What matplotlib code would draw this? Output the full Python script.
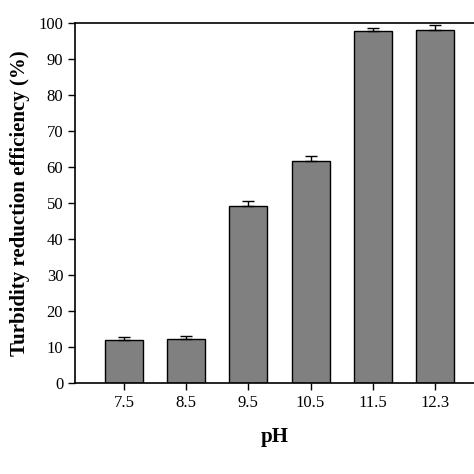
import matplotlib
matplotlib.use("Agg")
import matplotlib.pyplot as plt
import numpy as np

categories = ["7.5", "8.5", "9.5", "10.5", "11.5", "12.3"]
values = [11.9, 12.3, 49.2, 61.7, 97.7, 98.1]
errors = [1.0, 0.7, 1.2, 1.2, 0.8, 1.3]

plt.rcParams['font.family'] = ['Liberation Serif', 'DejaVu Serif']
fig = plt.figure(figsize=(4.74, 4.74), dpi=100)
ax = fig.add_axes([75/474, 91/474, 399/474, 360.3/474])
x = np.arange(len(categories))
ax.bar(x, values, width=0.61, color='#808080', edgecolor='black', linewidth=1.0,
       yerr=[np.zeros(len(errors)), errors], error_kw=dict(ecolor='black', elinewidth=1.0, capsize=4, capthick=1.0))
ax.set_xlim(-0.79, 5.63)
ax.set_ylim(0, 100)
ax.set_yticks(range(0, 101, 10))
ax.set_xticks(x)
ax.set_xticklabels(categories)
ax.tick_params(direction='out', length=5, width=1, labelsize=12)
ax.spines['right'].set_visible(False)
for s in ['left', 'bottom', 'top']:
    ax.spines[s].set_linewidth(1.2)
ax.set_xlabel('pH', fontsize=15, fontweight='bold', labelpad=12)
ax.set_ylabel('Turbidity reduction efficiency (%)', fontsize=15, fontweight='bold', labelpad=6)
fig.savefig('out.png', dpi=100)
